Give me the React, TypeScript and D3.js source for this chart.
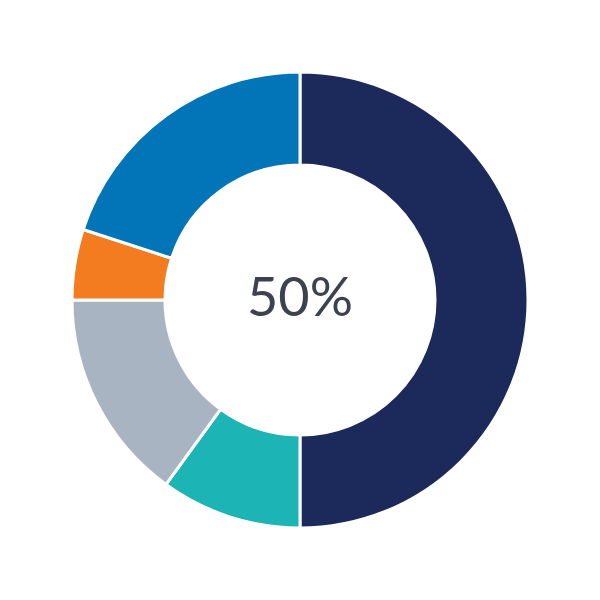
import { useEffect, useRef } from 'react';
import * as d3 from 'd3';

// valores de las porciones, en el sentido de las agujas del reloj desde arriba
const labels = ['A', 'B', 'C', 'D', 'E'];
const values = [50, 10, 15, 5, 20];
const colors = ['#1b2a5b', '#1db4b6', '#a9b4c3', '#f47c20', '#0275b8'];
const centerLabel = '50%';

const App = () => {
  const ref = useRef<SVGSVGElement>(null);

  useEffect(() => {
    if (!ref.current) return;
    const svg = d3.select(ref.current);
    svg.selectAll('*').remove();

    const width = 600;
    const height = 600;
    const outer = 228;
    const inner = 135;

    const g = svg.append('g').attr('transform', `translate(${width / 2},${height / 2})`);

    const pie = d3.pie<number>().sort(null).value(d => d);
    const arc = d3.arc<d3.PieArcDatum<number>>().innerRadius(inner).outerRadius(outer);

    g.selectAll('path')
      .data(pie(values))
      .join('path')
      .attr('d', arc)
      .attr('fill', (_, i) => colors[i])
      .attr('stroke', '#fff')
      .attr('stroke-width', 3)
      .append('title')
      .text((d, i) => `${labels[i]}: ${d.data}%`);

    // texto central
    g.append('text')
      .attr('text-anchor', 'middle')
      .attr('y', 16)
      .attr('font-family', 'Lato, sans-serif')
      .attr('font-size', 54)
      .attr('fill', '#3d4250')
      .text(centerLabel);
  }, []);

  return (
    <svg
      ref={ref}
      width={600}
      height={600}
      style={{ position: 'absolute', left: 0, top: 0, background: '#fff' }}
    />
  );
};

export default App;
